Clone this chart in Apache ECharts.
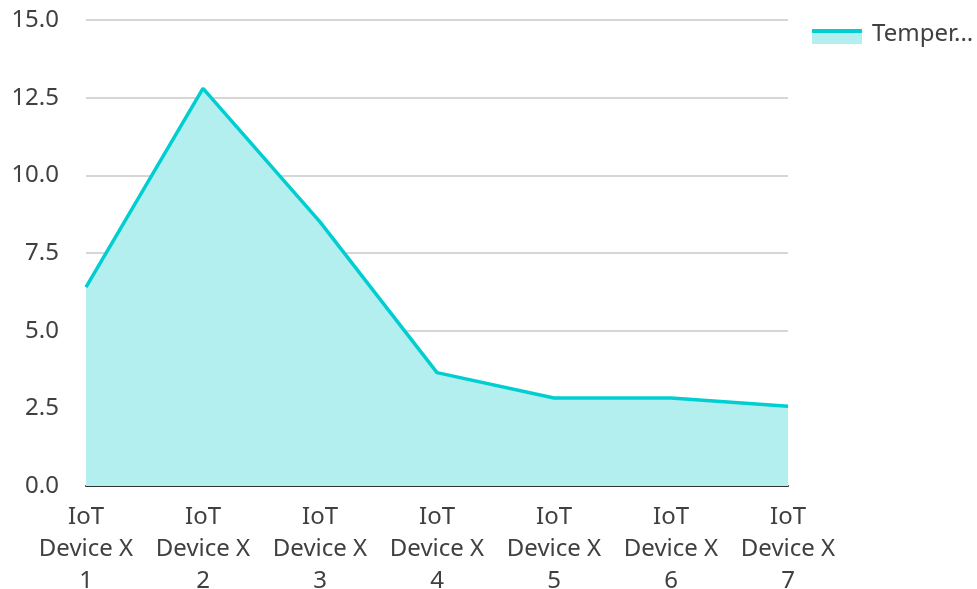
<!DOCTYPE html>
<html>
<head>
<meta charset="utf-8">
<script src="https://cdn.jsdelivr.net/npm/echarts@6/dist/echarts.min.js"></script>
<style>
  html, body { margin: 0; padding: 0; background: #fff; }
  #chart { width: 977px; height: 589px; }
</style>
</head>
<body>
<div id="chart"></div>
<script>
const categories = ["IoT\nDevice X\n1", "IoT\nDevice X\n2", "IoT\nDevice X\n3", "IoT\nDevice X\n4",
  "IoT\nDevice X\n5", "IoT\nDevice X\n6", "IoT\nDevice X\n7"];
const temperature = [6.4, 12.8, 8.5, 3.65, 2.83, 2.83, 2.57];
const seriesName = "Temperature";

const lineColor = "#00ced1";
const areaColor = "#b2efee";
const textColor = "#404040";
const font = "Noto Sans";

const chart = echarts.init(document.getElementById("chart"));
chart.setOption({
  animation: false,
  textStyle: { fontFamily: font },
  grid: { left: 86, right: 189, top: 20, bottom: 103, containLabel: false, outerBoundsMode: "none" },
  legend: {
    left: 812,
    top: 17,
    icon: "rect",
    itemWidth: 50,
    itemHeight: 11,
    itemGap: 10,
    itemStyle: { color: "rgba(0,0,0,0)" },
    textStyle: { fontSize: 24, lineHeight: 24, color: textColor, fontFamily: font, width: 114, overflow: "truncate", ellipsis: "..." },
    data: [seriesName]
  },
  // legend swatch: line over a filled band
  graphic: [
    { type: "rect", left: 812, top: 33, shape: { width: 50, height: 11 }, style: { fill: areaColor }, z: 100 },
    { type: "rect", left: 812, top: 29, shape: { width: 50, height: 4 }, style: { fill: lineColor }, z: 101 }
  ],
  xAxis: {
    type: "category",
    data: categories,
    boundaryGap: false,
    axisLine: { show: true, lineStyle: { color: "#333", width: 2 } },
    axisTick: { show: false },
    axisLabel: { interval: 0, fontSize: 24, color: textColor, lineHeight: 32, margin: 15, fontFamily: font }
  },
  yAxis: {
    type: "value",
    min: 0,
    max: 15,
    interval: 2.5,
    axisLine: { show: false },
    axisTick: { show: false },
    axisLabel: {
      fontSize: 24, color: textColor, margin: 27, fontFamily: font,
      formatter: v => v.toFixed(1)
    },
    splitLine: { lineStyle: { color: "#c8c8c8", width: 1.5 } }
  },
  series: [{
    name: seriesName,
    type: "line",
    data: temperature,
    symbol: "none",
    lineStyle: { color: lineColor, width: 3.5 },
    itemStyle: { color: lineColor },
    areaStyle: { color: areaColor, opacity: 1 },
    z: 2
  }]
});
</script>
</body>
</html>
